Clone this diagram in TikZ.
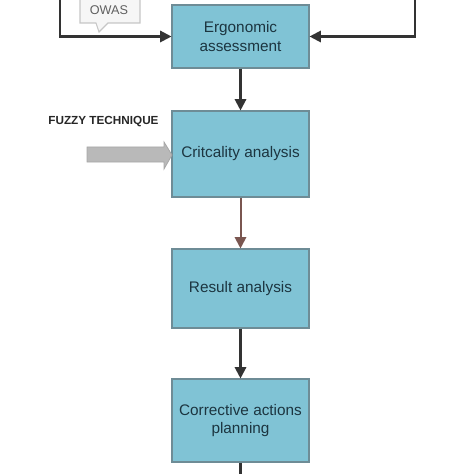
\documentclass[tikz,border=0pt]{standalone}
\usepackage{fontspec}
\setmainfont{Liberation Sans}
\usepackage{tikz}
\usetikzlibrary{arrows.meta}
\definecolor{boxfill}{HTML}{80C3D5}
\definecolor{boxline}{HTML}{6E8C96}
\definecolor{boxtext}{HTML}{1C3540}
\definecolor{linkdark}{HTML}{333333}
\definecolor{linkbrown}{HTML}{7A5650}
\begin{document}
\begin{tikzpicture}[x=0.75pt, y=-0.75pt,
  stagebox/.style={draw=boxline, fill=boxfill, text=boxtext, thick, minimum width=102.75pt, align=center, font=\fontsize{11.5}{14}\selectfont},
  link/.style={linkdark, line width=1.6pt, -{Triangle[length=8.5pt,width=8.5pt]}}]

\useasboundingbox (0,0) rectangle (474,474);

% -------- stages -----------
\node [stagebox, minimum height=47.25pt] (ergo) at (240.5, 36.5) {Ergonomic\\assessment};
\node [stagebox, minimum height=64.5pt]  (crit) at (240.5, 154)  {Critcality analysis};
\node [stagebox, minimum height=59.25pt] (res)  at (240.5, 288.5) {Result analysis};
\node [stagebox, minimum height=62.25pt] (corr) at (240.5, 420.5) {Corrective actions\\planning};

\coordinate (lefttop)  at (60, 0);
\coordinate (righttop) at (415, 0);
\coordinate (bottom)   at (240.5, 476);

% -------- inputs -----------
\draw [link] (lefttop)  |- (ergo.west);
\draw [link] (righttop) |- (ergo.east);

\draw [draw=gray!45, fill=gray!7, line width=0.8pt]
  (80,-3) -- (80,23) -- (96,23) -- (99,32) -- (108,23) -- (140,23) -- (140,-3);
\node [text=gray!75!black, font=\fontsize{9.5}{10}\selectfont] (owas) at (109, 10) {OWAS};

\node [font=\bfseries\fontsize{8.8}{10}\selectfont, text=black!85] (fuzzy) at (103.5, 122) {FUZZY TECHNIQUE};
\draw [draw=gray!70, fill=gray!55, line width=0.6pt]
  (87,147) -- (164,147) -- (164,142) -- (172,155) -- (164,169) -- (164,162) -- (87,162) -- cycle;

% -------- flow -----------
\draw [link] (ergo) -- (crit);
\draw [link, linkbrown, line width=1.5pt] (crit) -- (res);
\draw [link] (res) -- (corr);
\draw [linkdark, line width=1.6pt] (corr) -- (bottom);

\end{tikzpicture}
\end{document}
